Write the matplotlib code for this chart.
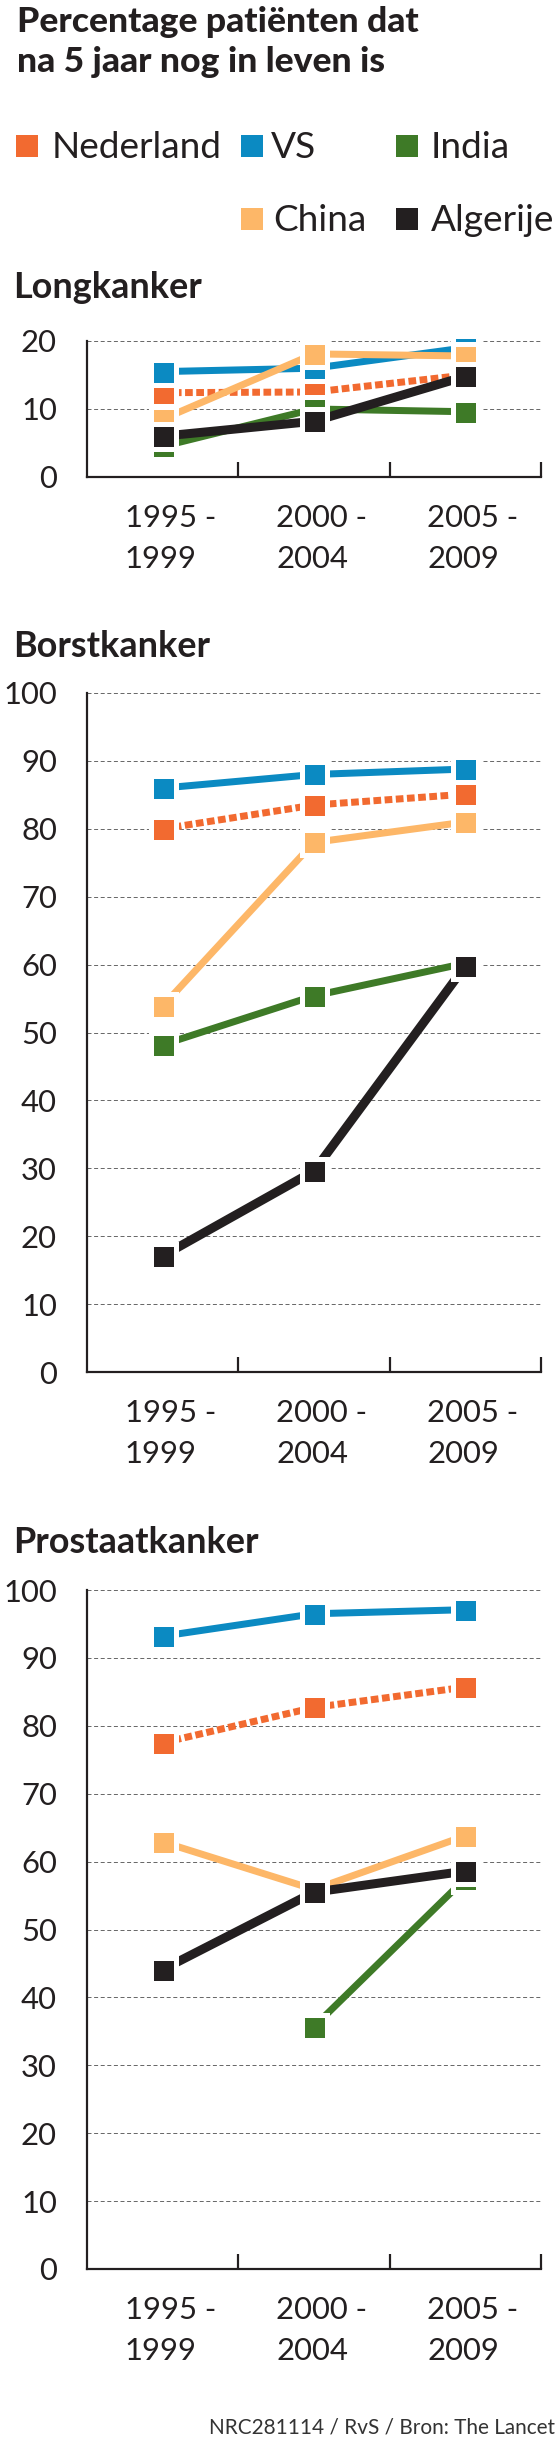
import numpy as np
import matplotlib
matplotlib.use("Agg")
import matplotlib.pyplot as plt
from matplotlib.patches import Rectangle
from matplotlib.transforms import ScaledTranslation

plt.rcParams['font.family'] = ['Lato', 'DejaVu Sans']

# ---------------- data ----------------
periods = ["1995 -\n1999", "2000 -\n2004", "2005 -\n2009"]
countries = ["Nederland", "VS", "India", "China", "Algerije"]

long_nl = [12.4, 12.5, 15.0]
long_vs = [15.5, 16.0, 19.0]
long_in = [4.5, 10.0, 9.6]
long_cn = [8.5, 18.1, 17.8]
long_dz = [6.0, 8.2, 14.8]

borst_nl = [80.0, 83.5, 85.1]
borst_vs = [86.0, 88.0, 88.8]
borst_in = [48.2, 55.4, 60.2]
borst_cn = [53.9, 78.0, 81.0]
borst_dz = [17.1, 29.6, 59.8]

prost_nl = [77.5, 82.7, 85.7]
prost_vs = [93.2, 96.5, 97.1]
prost_in = [np.nan, 35.7, 57.5]
prost_cn = [62.9, 55.9, 63.8]
prost_dz = [44.1, 55.5, 58.6]

panel_titles = ["Longkanker", "Borstkanker", "Prostaatkanker"]
panel_tops = [20, 100, 100]
panel_data = [
    [long_nl, long_vs, long_in, long_cn, long_dz],
    [borst_nl, borst_vs, borst_in, borst_cn, borst_dz],
    [prost_nl, prost_vs, prost_in, prost_cn, prost_dz],
]

title = "Percentage patiënten dat\nna 5 jaar nog in leven is"
source = "NRC281114 / RvS / Bron: The Lancet"

# ---------------- style ----------------
colors = ["#F26A30", "#0B8AC2", "#3E7A27", "#FDB768", "#231F20"]
widths_px = [7, 7, 7, 7, 9]
dark = "#231F20"
W, H = 556, 2439
DPI = 100
PT = 72.0 / DPI  # points per pixel

fig = plt.figure(figsize=(W / DPI, H / DPI), dpi=DPI)
fig.patch.set_facecolor("white")

# title
t1, t2 = title.split("\n")
fig.text(17 / W, 1 - 32 / H, t1, fontsize=35.5 * PT, fontweight="black",
         color=dark, va="baseline", ha="left")
fig.text(17 / W, 1 - 72 / H, t2, fontsize=35.5 * PT, fontweight="black",
         color=dark, va="baseline", ha="left")

# legend (manual layout)
legend_layout = [(16, 135, 52, 158), (241, 135, 271, 158), (396, 135, 431, 158),
                 (241, 208, 273, 231), (396, 208, 431, 231)]
for name, col, (sx, sy, tx, tb) in zip(countries, colors, legend_layout):
    fig.add_artist(Rectangle((sx / W, 1 - (sy + 22) / H), 22 / W, 22 / H,
                             transform=fig.transFigure, facecolor=col,
                             edgecolor="none"))
    fig.text(tx / W, 1 - tb / H, name, fontsize=37 * PT, color=dark,
             va="baseline", ha="left")

# panel geometry (pixels)
ax_x0, ax_x1 = 87, 541
panel_geom = [(341, 477, 298), (693, 1372, 657), (1590, 2269, 1553)]

for ptitle, top, data, (ytop, ybot, tbase) in zip(panel_titles, panel_tops,
                                                  panel_data, panel_geom):
    ax = fig.add_axes([ax_x0 / W, 1 - ybot / H, (ax_x1 - ax_x0) / W,
                       (ybot - ytop) / H])
    ax.set_facecolor("none")
    ax.set_xlim(-0.5, 2.5)
    ax.set_ylim(0, top)

    # grid
    for v in np.arange(10, top + 1, 10):
        ax.axhline(v, color="#6a6a6a", lw=1.0 * PT, ls=(0, (4, 2.6)),
                   zorder=0.5, clip_on=False)

    x = np.arange(len(periods))
    for i, (vals, col, lwpx) in enumerate(zip(data, colors, widths_px)):
        ls = (0, (1.1, 0.5)) if i == 0 else "-"
        ax.plot(x, vals, color=col, lw=lwpx * PT, ls=ls,
                solid_capstyle="butt", dash_capstyle="butt",
                marker="s", markersize=25 * PT, markerfacecolor=col,
                markeredgecolor="white", markeredgewidth=5 * PT,
                zorder=2 + i, clip_on=False)

    # spines
    for s in ("top", "right"):
        ax.spines[s].set_visible(False)
    for s in ("left", "bottom"):
        ax.spines[s].set_color(dark)
        ax.spines[s].set_linewidth(2.2 * PT)
        ax.spines[s].set_zorder(10)

    ax.set_yticks(np.arange(0, top + 1, 10))
    ax.tick_params(axis="y", length=0, pad=30 * PT, labelsize=31 * PT,
                   labelcolor=dark)

    ax.set_xticks([0.5, 1.5, 2.5])
    ax.tick_params(axis="x", direction="in", length=15 * PT, width=2.2 * PT,
                   color=dark, labelbottom=False)

    # category labels
    for i, lab in enumerate(periods):
        l1, l2 = lab.split("\n")
        for txt, dy in ((l1, 50), (l2, 91)):
            tr = ax.transData + ScaledTranslation(-38 / DPI, -dy / DPI,
                                                  fig.dpi_scale_trans)
            ax.text(i, 0, txt, transform=tr, ha="left", va="baseline",
                    fontsize=31 * PT, color=dark, clip_on=False)

    fig.text(13 / W, 1 - tbase / H, ptitle, fontsize=36 * PT,
             fontweight="bold", color=dark, va="baseline", ha="left")

fig.text(555 / W, 1 - 2433 / H, source, fontsize=20.8 * PT, color="#333333",
         va="baseline", ha="right")

fig.savefig("out.png", dpi=DPI, facecolor="white")
